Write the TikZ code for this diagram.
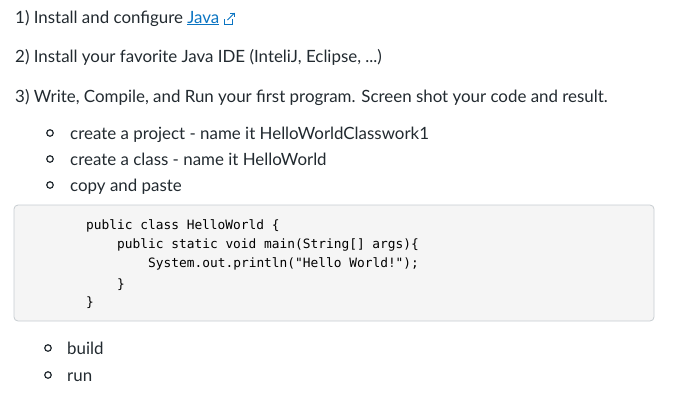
\documentclass[tikz,border=0pt]{standalone}
\usepackage{fontspec}
\setmainfont{Lato}
\setmonofont{DejaVu Sans Mono}
\definecolor{linkblue}{HTML}{0A74C2}
\definecolor{codebg}{HTML}{F5F5F5}
\definecolor{codeborder}{HTML}{C7CDD1}
\definecolor{txt}{HTML}{222A30}
\begin{document}
\begin{tikzpicture}[x=1pt,y=-1pt,
  txtline/.style={anchor=base west,inner sep=0pt,font=\fontsize{16.9}{20}\selectfont,text=txt},
  codeline/.style={anchor=base west,inner sep=0pt,font=\ttfamily\fontsize{12.85}{15}\selectfont,text=black},
  bul/.style={circle,draw=txt,line width=1.2pt,minimum size=6.5pt,inner sep=0pt}]
\useasboundingbox (0,0) rectangle (700,405);
\node[txtline] (l1) at (15,23) {1) Install and configure \textcolor{linkblue}{\underline{Java}}};
\coordinate (ic) at (l1.base east);
\begin{scope}[shift={(ic)},xshift=5pt,yshift=-1pt,linkblue,line width=0.8pt]
\draw (0,-5) -- (0,0) -- (8,0) -- (8,-5);
\draw (3,-4) -- (10,-11);
\draw (6,-11) -- (10,-11) -- (10,-7);
\end{scope}
\node[txtline] (l2) at (15,62) {2) Install your favorite Java IDE (InteliJ, Eclipse, ...)};
\node[txtline] (l3) at (15,102) {3) Write, Compile, and Run your first program. Screen shot your code and result.};
\node[bul] (b1) at (50,133) {};
\node[txtline] (t1) at (70,139) {create a project - name it HelloWorldClasswork1};
\node[bul] (b2) at (50,159) {};
\node[txtline] (t2) at (70,165) {create a class - name it HelloWorld};
\node[bul] (b3) at (50,185) {};
\node[txtline] (t3) at (70,191) {copy and paste};
\draw[codeborder,fill=codebg,rounded corners=4pt,line width=0.8pt] (14,205) rectangle (654,321);
\node[codeline] (c1) at (86,229) {public class HelloWorld \{};
\node[codeline] (c2) at (117,248) {public static void main(String[] args)\{};
\node[codeline] (c3) at (148,267) {System.out.println("Hello World!");};
\node[codeline] (c4) at (117,288) {\}};
\node[codeline] (c5) at (86,306) {\}};
\node[bul] (b4) at (48,348) {};
\node[txtline] (t4) at (67,354) {build};
\node[bul] (b5) at (48,375) {};
\node[txtline] (t5) at (67,381) {run};
\end{tikzpicture}
\end{document}
